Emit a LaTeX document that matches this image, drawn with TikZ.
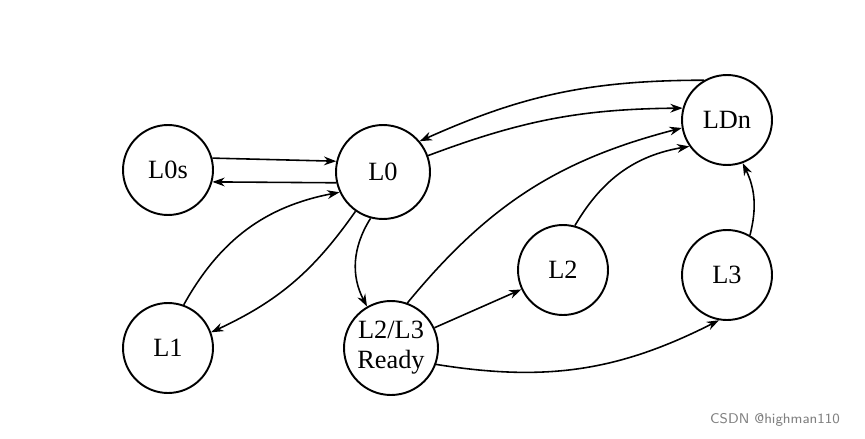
\documentclass[tikz,border=0pt]{standalone}
\usepackage{fontspec}
\setmainfont{Liberation Serif}
\usetikzlibrary{arrows.meta}
\begin{document}
\begin{tikzpicture}[x=0.02cm,y=-0.02cm,
  st/.style={circle,draw,line width=1.1pt,minimum size=1.8cm,inner sep=0pt,align=center,font=\fontsize{15}{17}\selectfont},
  ar/.style={line width=0.9pt,-{Stealth[length=7pt,width=5pt]}}]
\useasboundingbox (0,0) rectangle (865,439);
\node[st] (L0s) at (168,170) {L0s};
\node[st,minimum size=1.88cm] (L0) at (383,172) {L0};
\node[st] (LDn) at (727,120) {LDn};
\node[st] (L2) at (563,270) {L2};
\node[st] (L3) at (727,275) {L3};
\node[st] (L1) at (168,348) {L1};
\node[st,minimum size=1.88cm] (R) at (391,348) {L2/L3\\Ready};
\node[font=\sffamily\fontsize{8}{8}\selectfont,text=gray] (wm) at (775,420) {CSDN @highman110};
\draw[ar] (L0s.15) -- (L0.167);
\draw[ar] (L0.193) -- (L0s.-15);
\draw[ar] (L1.70) to[bend left=25] (L0.205);
\draw[ar] (L0.235) to[bend left=15] (L1.20);
\draw[ar] (L0.255) to[bend right=30] (R.120);
\draw[ar] (L0.20) to[bend left=10] (LDn.165);
\draw[ar] (LDn.120) to[bend right=12] (L0.40);
\draw[ar] (R.70) to[bend left=18] (LDn.190);
\draw[ar] (R.25) -- (L2.205);
\draw[ar] (R.-20) to[bend right=18] (L3.260);
\draw[ar] (L2.75) to[bend left=25] (LDn.215);
\draw[ar] (L3.60) to[bend right=20] (LDn.290);
\end{tikzpicture}
\end{document}
